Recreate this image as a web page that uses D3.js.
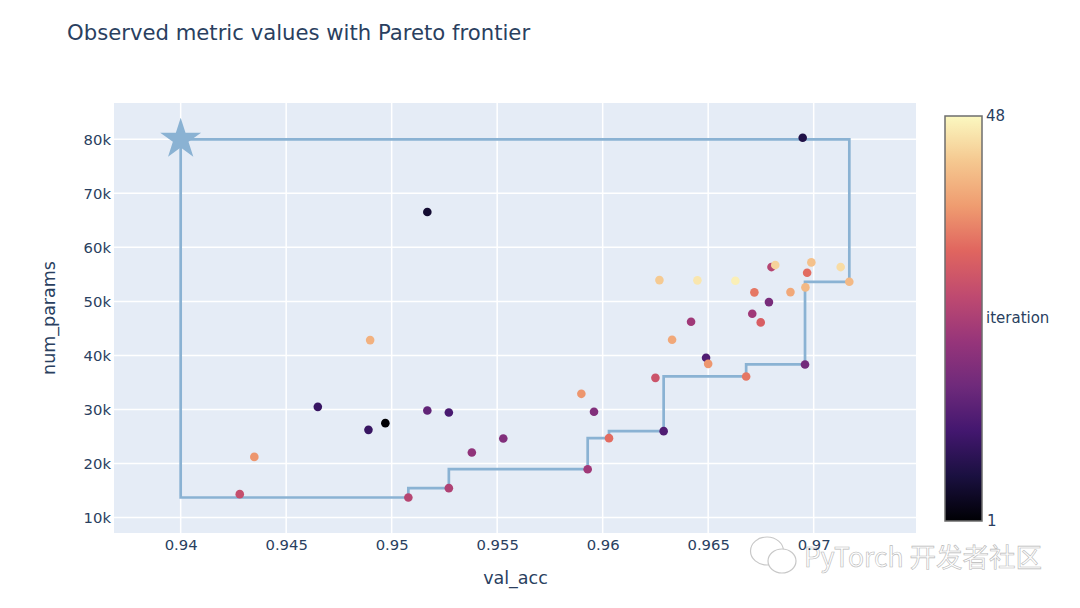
<!DOCTYPE html>
<html>
<head>
<meta charset="utf-8">
<script src="https://cdn.jsdelivr.net/npm/d3@7"></script>
<style>
  html, body { margin: 0; padding: 0; background: #fff; }
  text { font-family: "DejaVu Sans", sans-serif; fill: #2a3f5f; }
</style>
</head>
<body>
<svg id="chart" width="1080" height="608"></svg>
<script>
var chartTitle = "Observed metric values with Pareto frontier"
var xTitle = "val_acc"
var yTitle = "num_params"
var barTitle = "iteration"

var xTicks = [0.94, 0.945, 0.95, 0.955, 0.96, 0.965, 0.97]
var yTicks = [10000, 20000, 30000, 40000, 50000, 60000, 70000, 80000]

// observed trials
var valAcc = [0.96948, 0.95169, 0.94898, 0.96269, 0.96449, 0.96629, 0.96800, 0.96818, 0.96989, 0.97128,
              0.96969, 0.97169, 0.96961, 0.96890, 0.96719, 0.96788, 0.96709, 0.96749, 0.96419, 0.96329,
              0.96490, 0.96500, 0.96250, 0.96680, 0.96959, 0.94650, 0.94890, 0.94970, 0.95169, 0.95271,
              0.95899, 0.95959, 0.95529, 0.95380, 0.96030, 0.95929, 0.95271, 0.95079, 0.94280, 0.94349,
              0.96289]
var numParams = [80300, 66540, 42830, 53940, 53890, 53820, 56350, 56720, 57220, 56350,
                 55300, 53630, 52590, 51720, 51670, 49870, 47700, 46110, 46220, 42890,
                 39560, 38440, 35850, 36110, 38330, 30480, 26220, 27460, 29810, 29440,
                 32890, 29560, 24630, 22040, 24690, 18940, 15430, 13700, 14320, 21220,
                 25980]
var iteration = [7, 5, 40, 43, 46, 47, 26, 44, 42, 45,
                 33, 41, 41, 39, 34, 18, 23, 31, 23, 39,
                 13, 37, 29, 34, 17, 10, 10, 1, 15, 12,
                 37, 19, 19, 21, 33, 23, 25, 26, 28, 37,
                 13]

// frontier corners, reference point first and last
var frontierAcc = [0.94, 0.97169, 0.96959, 0.96680, 0.96289, 0.96030, 0.95929, 0.95271, 0.95079, 0.94]
var frontierParams = [80000, 53630, 38330, 36110, 25980, 24690, 18940, 15430, 13700, 80000]
var refPoint = [0.94, 80000]

// magma as it looks in the screenshot, a bit washed out
var magmaStops = ["#000004", "#1a1040", "#43176f", "#6f2a7b", "#97357a", "#bf4a70", "#e0655f", "#ef9c70", "#f5c890", "#fbf8c0"]

var svg = d3.select("#chart")
var left = 114, right = 916, top_ = 103, bottom = 533

var x = d3.scaleLinear().domain([0.93684, 0.97485]).range([left, right])
var y = d3.scaleLinear().domain([7130, 86720]).range([bottom, top_])

var color = d3.scaleLinear()
  .domain(magmaStops.map(function(d, i){ return 1 + 47 * i / (magmaStops.length - 1) }))
  .range(magmaStops)

svg.append("rect").attr("x", left).attr("y", top_).attr("width", right - left).attr("height", bottom - top_).attr("fill", "#e5ecf6")

// grid
svg.selectAll(".gx").data(xTicks).enter().append("line")
  .attr("x1", function(d){ return x(d) }).attr("x2", function(d){ return x(d) })
  .attr("y1", top_).attr("y2", bottom).attr("stroke", "#fff").attr("stroke-width", 1.5)
svg.selectAll(".gy").data(yTicks).enter().append("line")
  .attr("y1", function(d){ return y(d) }).attr("y2", function(d){ return y(d) })
  .attr("x1", left).attr("x2", right).attr("stroke", "#fff").attr("stroke-width", 1.5)

// watermark goes under the tick labels
var mark = svg.append("g")
mark.append("ellipse").attr("cx", 767).attr("cy", 551).attr("rx", 16.5).attr("ry", 14).attr("fill", "#fff").attr("stroke", "#c8c8c8").attr("stroke-width", 1.2)
mark.append("ellipse").attr("cx", 782).attr("cy", 561).attr("rx", 14).attr("ry", 12).attr("fill", "#fff").attr("stroke", "#c8c8c8").attr("stroke-width", 1.2)
mark.append("text").attr("x", 804).attr("y", 567).attr("font-size", 26.5)
  .style("font-family", "'Noto Sans CJK SC', sans-serif").style("fill", "#fff").attr("stroke", "#b8b8b8").attr("stroke-width", 0.6)
  .text("PyTorch 开发者社区")

// axes
var xAxis = svg.append("g").attr("transform", "translate(0," + bottom + ")")
  .call(d3.axisBottom(x).tickValues(xTicks).tickSize(0).tickPadding(6).tickFormat(function(d){ return String(d) }))
var yAxis = svg.append("g").attr("transform", "translate(" + left + ",0)")
  .call(d3.axisLeft(y).tickValues(yTicks).tickSize(0).tickPadding(3).tickFormat(function(d){ return (d / 1000) + "k" }))
xAxis.select(".domain").remove()
yAxis.select(".domain").remove()
xAxis.selectAll("text").attr("font-size", 14.8).style("font-family", "'DejaVu Sans', sans-serif")
yAxis.selectAll("text").attr("font-size", 14.8).style("font-family", "'DejaVu Sans', sans-serif")

svg.append("text").attr("x", 67).attr("y", 40).attr("font-size", 21.2).text(chartTitle)
svg.append("text").attr("x", 515.5).attr("y", 584).attr("text-anchor", "middle").attr("font-size", 17.5).text(xTitle)
svg.append("text").attr("transform", "translate(55,318) rotate(-90)").attr("text-anchor", "middle").attr("font-size", 17.5).text(yTitle)

// frontier
var line = d3.line().curve(d3.curveStepAfter)
  .x(function(d){ return x(d[0]) }).y(function(d){ return y(d[1]) })
svg.append("path").datum(d3.zip(frontierAcc, frontierParams))
  .attr("d", line).attr("fill", "none").attr("stroke", "#8ab2d3").attr("stroke-width", 2.7)

svg.append("path").attr("d", d3.symbol(d3.symbolStar, 519)())
  .attr("transform", "translate(" + x(refPoint[0]) + "," + y(refPoint[1]) + ")")
  .attr("fill", "#8ab2d3")

// points
svg.selectAll(".pt").data(d3.range(valAcc.length)).enter().append("circle")
  .attr("cx", function(i){ return x(valAcc[i]) })
  .attr("cy", function(i){ return y(numParams[i]) })
  .attr("r", 4.3)
  .attr("fill", function(i){ return color(iteration[i]) })

// colorbar
var barX = 945, barW = 37, barTop = 116, barBottom = 521
var defs = svg.append("defs")
var grad = defs.append("linearGradient").attr("id", "bar").attr("x1", 0).attr("x2", 0).attr("y1", 1).attr("y2", 0)
magmaStops.forEach(function(c, i){
  grad.append("stop").attr("offset", i / (magmaStops.length - 1)).attr("stop-color", c)
})
svg.append("rect").attr("x", barX).attr("y", barTop).attr("width", barW).attr("height", barBottom - barTop)
  .attr("fill", "url(#bar)").attr("stroke", "#6e6e6e").attr("stroke-width", 1.5)
var barScale = d3.scaleLinear().domain([1, 48]).range([barBottom, barTop])
svg.append("text").attr("x", 986).attr("y", barScale(48) + 5).attr("font-size", 15).text("48")
svg.append("text").attr("x", 987).attr("y", barScale(1) + 5).attr("font-size", 15).text("1")
svg.append("text").attr("x", 986).attr("y", 323).attr("font-size", 15).text(barTitle)
</script>
</body>
</html>
